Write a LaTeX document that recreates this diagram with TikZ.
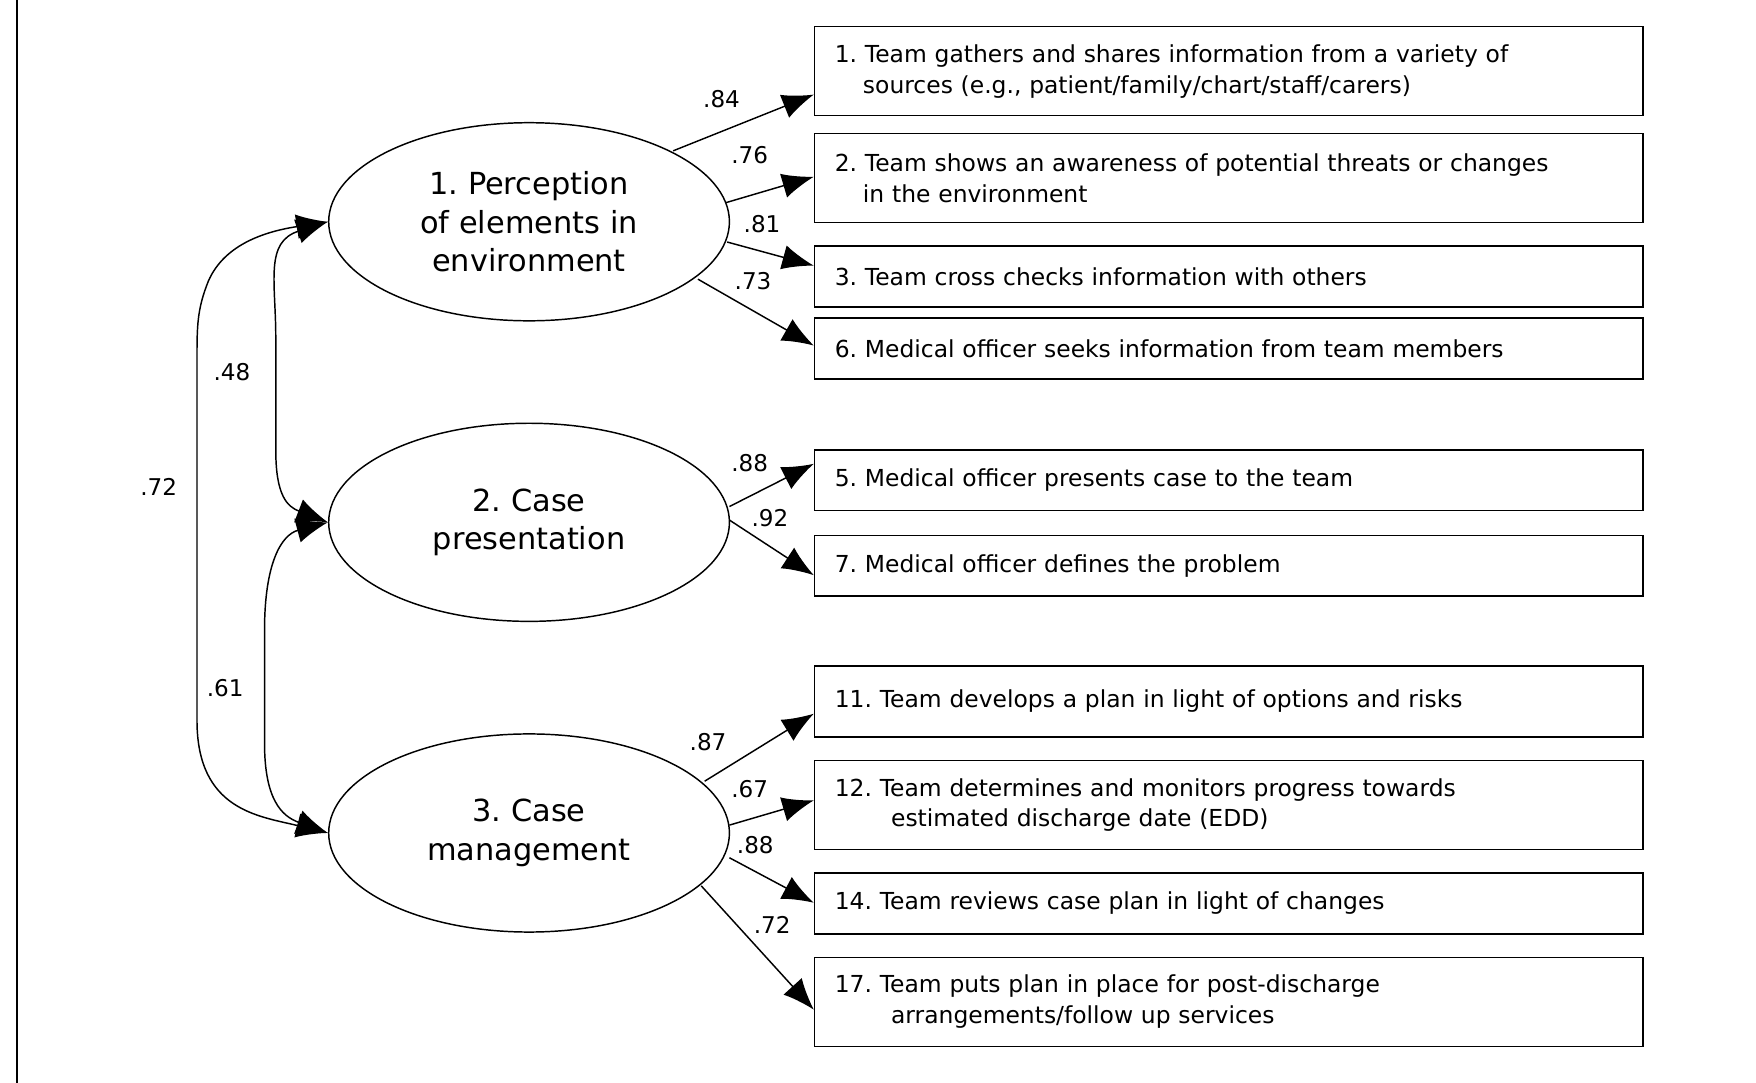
\documentclass[tikz,border=0pt]{standalone}
\usepackage{fontspec}
\setmainfont{DejaVu Sans}
\frenchspacing
\usetikzlibrary{arrows.meta,shapes.geometric}
\begin{document}
\begin{tikzpicture}[x=1pt,y=-1pt,
  lat/.style={ellipse,draw,line width=1.3pt,minimum width=356pt,minimum height=176pt,inner sep=0pt,align=center,font=\fontsize{27}{34.5}\selectfont},
  box/.style={draw,line width=1.3pt,anchor=north west,minimum width=736pt,text width=700pt,inner xsep=18pt,align=left,font=\fontsize{20.8}{27.5}\selectfont},
  ar/.style={line width=1.3pt,-{Latex[length=28pt,width=22pt]}},
  dar/.style={line width=1.3pt,{Latex[length=28pt,width=22pt]}-{Latex[length=28pt,width=22pt]}},
  lb/.style={font=\fontsize{20.5}{22}\selectfont}]
\useasboundingbox (0,0) rectangle (1560,962);
\draw[line width=1.5pt] (15,0) -- (15,962);
\node[lat] (e1) at (470,197) {1. Perception\\of elements in\\environment};
\node[lat] (e2) at (470,464) {2. Case\\presentation};
\node[lat] (e3) at (470,740) {3. Case\\management};
\node[box,minimum height=79pt] (b1) at (723,23) {1. Team gathers and shares information from a variety of\\\hspace*{25pt}sources (e.g., patient/family/chart/staff/carers)};
\node[box,minimum height=79pt] (b2) at (723,118) {2. Team shows an awareness of potential threats or changes\\\hspace*{25pt}in the environment};
\node[box,minimum height=54pt] (b3) at (723,218) {3. Team cross checks information with others};
\node[box,minimum height=54pt] (b4) at (723,282) {6. Medical officer seeks information from team members};
\node[box,minimum height=54pt] (b5) at (723,399) {5. Medical officer presents case to the team};
\node[box,minimum height=54pt] (b6) at (723,475) {7. Medical officer defines the problem};
\node[box,minimum height=63pt] (b7) at (723,591) {11. Team develops a plan in light of options and risks};
\node[box,minimum height=79pt] (b8) at (723,675) {12. Team determines and monitors progress towards\\\hspace*{50pt}estimated discharge date (EDD)};
\node[box,minimum height=54pt] (b9) at (723,775) {14. Team reviews case plan in light of changes};
\node[box,minimum height=79pt] (b10) at (723,850) {17. Team puts plan in place for post-discharge\\\hspace*{50pt}arrangements/follow up services};
\coordinate (t1) at (723,84); \coordinate (t2) at (723,157); \coordinate (t3) at (723,236); \coordinate (t4) at (723,307);
\coordinate (t5) at (723,412); \coordinate (t6) at (723,511); \coordinate (t7) at (723,634); \coordinate (t8) at (723,711);
\coordinate (t9) at (723,802); \coordinate (t10) at (723,897);
\draw[ar] (598,134) -- (t1);
\draw[ar] (645,180) -- (t2);
\draw[ar] (646,215) -- (t3);
\draw[ar] (620,248) -- (t4);
\draw[ar] (648,450) -- (t5);
\draw[ar] (648,462) -- (t6);
\draw[ar] (626,694) -- (t7);
\draw[ar] (648,733) -- (t8);
\draw[ar] (648,762) -- (t9);
\draw[ar] (623,787) -- (t10);
\node[lb] (l1) at (641,88) {.84};
\node[lb] (l2) at (666,138) {.76};
\node[lb] (l3) at (677,199) {.81};
\node[lb] (l4) at (669,250) {.73};
\node[lb] (l5) at (666,411) {.88};
\node[lb] (l6) at (684,460) {.92};
\node[lb] (l7) at (629,659) {.87};
\node[lb] (l8) at (666,701) {.67};
\node[lb] (l9) at (671,751) {.88};
\node[lb] (l10) at (686,822) {.72};
\node[lb] (c1) at (206,331) {.48};
\node[lb] (c2) at (141,433) {.72};
\node[lb] (c3) at (200,611) {.61};
\draw[dar] (e1.west) .. controls (235,215) and (245,250) .. (245,300) -- (245,400) .. controls (245,440) and (255,450) .. (e2.west);
\draw[dar] (e2.west) .. controls (250,475) and (235,500) .. (235,560) -- (235,660) .. controls (235,710) and (250,725) .. (e3.west);
\draw[dar] (e1.west) .. controls (240,205) and (200,215) .. (185,250) .. controls (175,275) and (175,290) .. (175,320) -- (175,640) .. controls (175,720) and (230,725) .. (e3.west);
\end{tikzpicture}
\end{document}
